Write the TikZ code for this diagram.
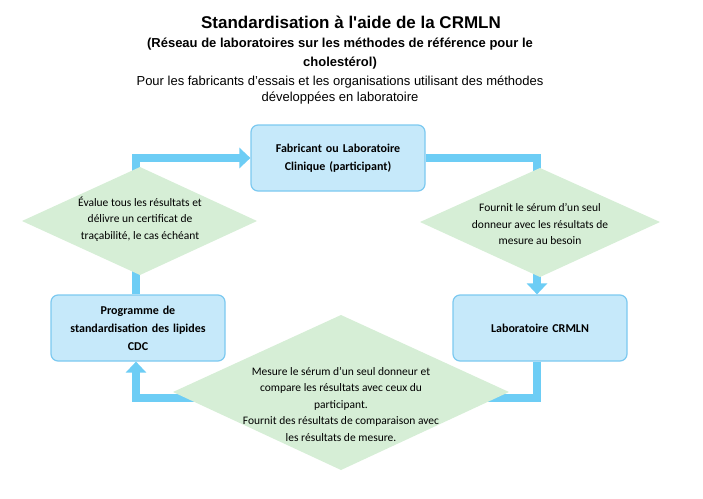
\documentclass[tikz,border=0pt]{standalone}
\usepackage{fontspec}
\setmainfont{Liberation Sans}
\newfontfamily\carlfont{Carlito}
\usetikzlibrary{arrows.meta}
\definecolor{boxf}{HTML}{C6E9FA}
\definecolor{boxd}{HTML}{7CC9F0}
\definecolor{dia}{HTML}{D6EED6}
\definecolor{arr}{HTML}{6DCDF5}
\begin{document}
\begin{tikzpicture}[x=1pt,y=-1pt,
 box/.style={draw=boxd,line width=1.2pt,fill=boxf,rounded corners=7pt,minimum width=174pt,minimum height=66pt,align=center,font=\carlfont\bfseries\fontsize{12}{18}\selectfont,text width=165pt},
 dtxt/.style={align=center,font=\carlfont\fontsize{11.5}{16.5}\selectfont},
 flow/.style={draw=arr,line width=8pt,-{Triangle[length=11pt,width=20pt]}}]
\useasboundingbox (0,0) rectangle (703,498);
\node[font=\bfseries\fontsize{17}{20}\selectfont] (t1) at (351,22) {Standardisation à l\textquotesingle aide de la CRMLN};
\node[font=\bfseries\fontsize{13}{19}\selectfont,align=center] (t2) at (340,54) {(Réseau de laboratoires sur les méthodes de référence pour le\\cholestérol)};
\node[font=\fontsize{13}{16}\selectfont,align=center] (t3) at (340,90) {Pour les fabricants d’essais et les organisations utilisant des méthodes\\développées en laboratoire};
\coordinate (c1) at (136,157);
\coordinate (c2) at (537,157);
\coordinate (c3) at (537,398);
\coordinate (c4) at (136,398);
\node[box] (top) at (338,158) {Fabricant ou Laboratoire\\Clinique (participant)};
\node[box] (left) at (138,328) {Programme de\\standardisation des lipides\\CDC};
\node[box] (right) at (540,328) {Laboratoire CRMLN};
\draw[flow] (left.north -| c1) |- (top.west);
\draw[flow] (top.east) -| (right.north -| c2);
\draw[flow] (right.south -| c3) |- (c4) -- (left.south -| c4);
\fill[dia] (22,221) -- (140,167) -- (257,221) -- (140,275) -- cycle;
\node[dtxt] (dl) at (140,219) {Évalue tous les résultats et\\délivre un certificat de\\traçabilité, le cas échéant};
\fill[dia] (420,222) -- (540,168) -- (660,222) -- (540,277) -- cycle;
\node[dtxt] (dr) at (540,224) {Fournit le sérum d’un seul\\donneur avec les résultats de\\mesure au besoin};
\fill[dia] (173,392) -- (341,315) -- (509,392) -- (341,470) -- cycle;
\node[dtxt] (db) at (341,404) {Mesure le sérum d’un seul donneur et\\compare les résultats avec ceux du\\participant.\\Fournit des résultats de comparaison avec\\les résultats de mesure.};
\end{tikzpicture}
\end{document}
